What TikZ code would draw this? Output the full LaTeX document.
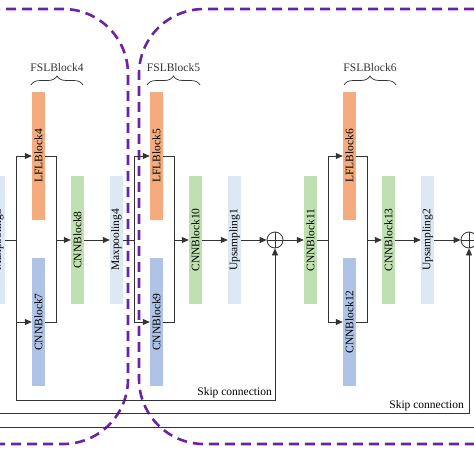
\documentclass[tikz,border=0pt]{standalone}
\usepackage{fontspec}
\setmainfont{Liberation Serif}
\usetikzlibrary{arrows.meta,decorations.pathreplacing}

\definecolor{lflorange}{HTML}{F4AC7E}
\definecolor{cnnblue}{HTML}{AFC3E6}
\definecolor{cnngreen}{HTML}{BFE0B0}
\definecolor{samplight}{HTML}{DDE8F5}
\definecolor{grppurple}{HTML}{6B22A3}

\begin{document}
\begin{tikzpicture}[x=1pt, y=-1pt,
    font=\fontsize{11.5}{13}\selectfont,
    block/.style={minimum width=13pt, minimum height=128pt, inner sep=0pt},
    lfl/.style={block, fill=lflorange},
    cnn/.style={block, fill=cnnblue},
    conv/.style={block, fill=cnngreen},
    samp/.style={block, fill=samplight},
    addop/.style={circle, draw=black!80, line width=0.8pt, minimum size=16pt, inner sep=0pt,
        path picture={\draw[line width=0.8pt, black!80]
            (path picture bounding box.north) -- (path picture bounding box.south)
            (path picture bounding box.west) -- (path picture bounding box.east);}},
    arr/.style={-{Triangle[length=7pt,width=6pt]}},
    grp/.style={grppurple, line width=2.6pt, dash pattern=on 10pt off 6pt, rounded corners=65pt},
    fsl/.style={decorate, decoration={brace, amplitude=9pt}, line width=0.7pt, black!80},
]
\useasboundingbox (0,0) rectangle (474,474);

% groups
\draw[grp] (-10,9) -- (128,9) -- (128,444) -- (-10,444);
\draw[grp] (490,9) -- (139,9) -- (139,444) -- (490,444);

% blocks
\node[samp] (mp3) at (-1.5,240) {\rotatebox{90}{Maxpooling3}};
\node[lfl]  (l4)  at (38.5,156) {\rotatebox{90}{LFLBlock4}};
\node[cnn]  (c7)  at (38.5,322) {\rotatebox{90}{CNNBlock7}};
\node[conv] (c8)  at (77.5,240) {\rotatebox{90}{CNNBlock8}};
\node[samp] (mp4) at (116.5,240) {\rotatebox{90}{Maxpooling4}};
\node[lfl]  (l5)  at (156.5,156) {\rotatebox{90}{LFLBlock5}};
\node[cnn]  (c9)  at (156.5,322) {\rotatebox{90}{CNNBlock9}};
\node[conv] (c10) at (195.5,240) {\rotatebox{90}{CNNBlock10}};
\node[samp] (up1) at (234.5,240) {\rotatebox{90}{Upsampling1}};
\node[addop] (add1) at (275,240) {};
\node[conv] (c11) at (310.5,240) {\rotatebox{90}{CNNBlock11}};
\node[lfl]  (l6)  at (349.5,156) {\rotatebox{90}{LFLBlock6}};
\node[cnn]  (c12) at (349.5,322) {\rotatebox{90}{CNNBlock12}};
\node[conv] (c13) at (388.5,240) {\rotatebox{90}{CNNBlock13}};
\node[samp] (up2) at (427.5,240) {\rotatebox{90}{Upsampling2}};
\node[addop] (add2) at (469,240) {};

% FSL braces
\draw[fsl] (31,85) -- (83,85) node[midway, above=10pt] (f4) {FSLBlock4};
\draw[fsl] (147,85) -- (200,85) node[midway, above=10pt] (f5) {FSLBlock5};
\draw[fsl] (344,85) -- (396,85) node[midway, above=10pt] (f6) {FSLBlock6};

% split and merge points
\coordinate (s4) at (16,240);
\coordinate (m4) at (56,240);
\coordinate (s5) at (134,240);
\coordinate (m5) at (174,240);
\coordinate (s6) at (328,240);
\coordinate (m6) at (367,240);
\coordinate (k1) at (16,400);
\coordinate (k2in) at (-5,413);
\coordinate (k2) at (469,413);
\coordinate (k3in) at (-5,427);
\coordinate (k3out) at (480,427);

\begin{scope}[line width=0.8pt, draw=black!80]
    \draw (mp3.east) -- (s4);
    \draw[arr] (s4) |- (l4.west);
    \draw[arr] (s4) |- (c7.west);
    \draw (l4.east) -| (m4);
    \draw (c7.east) -| (m4);
    \draw[arr] (m4) -- (c8.west);
    \draw[arr] (c8.east) -- (mp4.west);

    \draw (mp4.east) -- (s5);
    \draw[arr] (s5) |- (l5.west);
    \draw[arr] (s5) |- (c9.west);
    \draw (l5.east) -| (m5);
    \draw (c9.east) -| (m5);
    \draw[arr] (m5) -- (c10.west);
    \draw[arr] (c10.east) -- (up1.west);
    \draw[arr] (up1.east) -- (add1.west);
    \draw[arr] (add1.east) -- (c11.west);

    \draw (c11.east) -- (s6);
    \draw[arr] (s6) |- (l6.west);
    \draw[arr] (s6) |- (c12.west);
    \draw (l6.east) -| (m6);
    \draw (c12.east) -| (m6);
    \draw[arr] (m6) -- (c13.west);
    \draw[arr] (c13.east) -- (up2.west);
    \draw[arr] (up2.east) -- (add2.west);

    % skip connections
    \draw[arr] (s4) -- (k1) -| (add1.south);
    \draw[arr] (k2in) -- (k2) -- (add2.south);
    \draw (k3in) -- (k3out);
\end{scope}

\node[above left, inner sep=2pt] (sk1) at (274,400) {Skip connection};
\node[above left, inner sep=2pt] (sk2) at (466,413) {Skip connection};

\end{tikzpicture}
\end{document}
